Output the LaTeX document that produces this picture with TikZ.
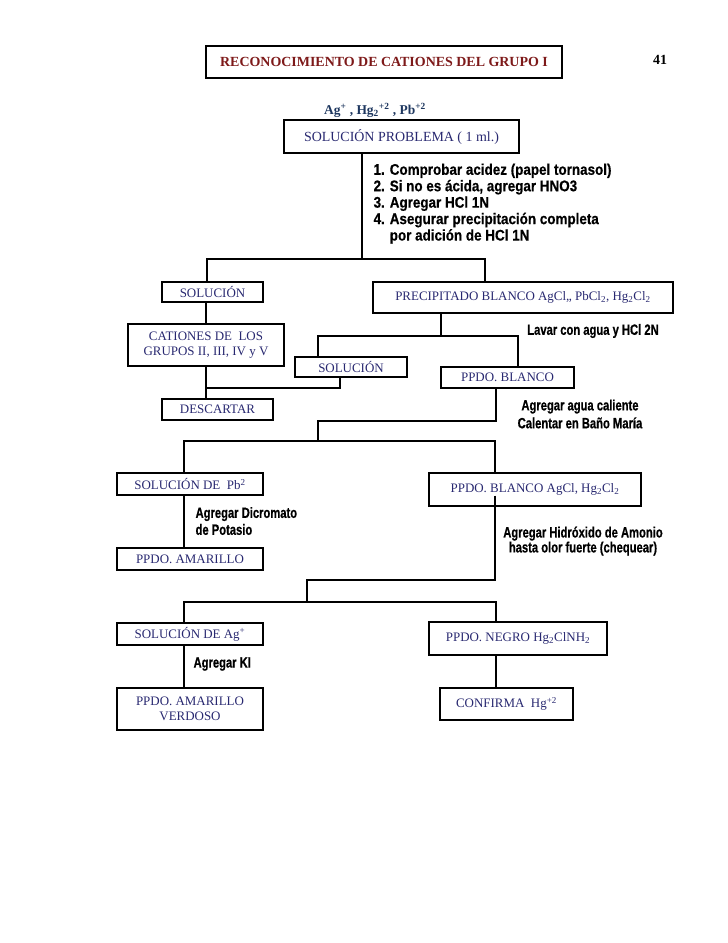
\documentclass[tikz,border=0pt]{standalone}
\usepackage{fontspec}
\usepackage{tikz}
\setmainfont{Liberation Serif}
\newfontfamily\notafont[FakeStretch=0.75,FakeBold=0.6]{Liberation Sans}
\newfontfamily\pasofont[FakeStretch=0.87,FakeBold=0.5]{Liberation Sans}
\definecolor{tinta}{RGB}{40,40,112}
\definecolor{rojotit}{RGB}{125,25,25}
\definecolor{azulion}{RGB}{30,55,95}

\begin{document}
\begin{tikzpicture}[x=1bp,y=-1bp,line width=1.2bp,
        caja/.style 2 args={draw,inner sep=0pt,minimum width=#1bp,minimum height=#2bp,
            text=tinta,align=center,font=\fontsize{13}{15.5}\selectfont},
        nota/.style={inner sep=0pt,font=\notafont\bfseries\fontsize{15}{17}\selectfont},
        pasos/.style={inner sep=0pt,align=left,font=\pasofont\bfseries\fontsize{15.5}{16.5}\selectfont}]
        \useasboundingbox (0,0) rectangle (728,943);
        % cabecera
        \node [caja={356}{32},text=rojotit,font=\bfseries\fontsize{14}{16}\selectfont] (titulo) at (384,62) {RECONOCIMIENTO DE CATIONES DEL GRUPO I};
        \node [font=\bfseries\fontsize{14}{16}\selectfont] (pagina) at (660,60) {41};
        \node [text=azulion,font=\bfseries\fontsize{13.5}{15}\selectfont] (iones) at (375,110) {Ag\textsuperscript{+} , Hg\textsubscript{2}\textsuperscript{+2} , Pb\textsuperscript{+2}};
        \node [caja={235}{33},font=\fontsize{14}{16}\selectfont] (problema) at (401.5,136.5) {SOLUCIÓN PROBLEMA ( 1 ml.)};
        \node [pasos,anchor=north west] (pasos) at (373,163) {1. Comprobar acidez (papel tornasol)\\2. Si no es ácida, agregar HNO3\\3. Agregar HCl 1N\\4. Asegurar precipitación completa\\\phantom{4. }por adición de HCl 1N};
        % cajas
        \node [caja={101}{20}] (sol1) at (212.5,292) {SOLUCIÓN};
        \node [caja={300}{31}] (precip) at (523,297.5) {PRECIPITADO BLANCO AgCl,, PbCl\textsubscript{2}, Hg\textsubscript{2}Cl\textsubscript{2}};
        \node [caja={156}{42}] (cationes) at (206,345) {CATIONES DE~ LOS\\GRUPOS II, III, IV y V};
        \node [caja={112}{20}] (sol2) at (351,367) {SOLUCIÓN};
        \node [caja={133}{21}] (blanco1) at (507.5,377.5) {PPDO. BLANCO};
        \node [caja={111}{21}] (descartar) at (217.5,409.5) {DESCARTAR};
        \node [caja={146}{22}] (solpb) at (190,484) {SOLUCIÓN DE~ Pb\textsuperscript{2}};
        \node [caja={212}{33}] (blanco2) at (535,489.5) {PPDO. BLANCO AgCl, Hg\textsubscript{2}Cl\textsubscript{2}};
        \node [caja={146}{22}] (amarillo) at (190,559) {PPDO. AMARILLO};
        \node [caja={146}{22}] (solag) at (190,634) {SOLUCIÓN DE Ag\textsuperscript{+}};
        \node [caja={178}{33}] (negro) at (518,638.5) {PPDO. NEGRO Hg\textsubscript{2}ClNH\textsubscript{2}};
        \node [caja={146}{42}] (verdoso) at (190,709) {PPDO. AMARILLO\\VERDOSO};
        \node [caja={133}{32}] (confirma) at (506.5,704) {CONFIRMA~ Hg\textsuperscript{+2}};
        % reactivos
        \node [nota] (lavar) at (593,331) {Lavar con agua y HCl 2N};
        \node [nota,align=center,font=\notafont\bfseries\fontsize{15}{18}\selectfont] (calentar) at (580,414) {Agregar agua caliente\\Calentar en Baño María};
        \node [nota,align=left,anchor=west] (dicromato) at (195,521) {Agregar Dicromato\\de Potasio};
        \node [nota,align=center,font=\notafont\bfseries\fontsize{15}{15}\selectfont] (amonio) at (583,541) {Agregar Hidróxido de Amonio\\hasta olor fuerte (chequear)};
        \node [nota,anchor=west] (yoduro) at (193,664) {Agregar KI};
        % lineas
        \coordinate (r1) at (362,259);
        \coordinate (r1l) at (207,259);
        \coordinate (r1r) at (485,259);
        \draw (problema.south -| r1) -- (r1);
        \draw (sol1.north -| r1l) -- (r1l) -- (r1r) -- (precip.north -| r1r);
        \draw (sol1.south -| cationes.north) -- (cationes.north);
        \coordinate (r2) at (441,336);
        \coordinate (r2l) at (318,336);
        \coordinate (r2r) at (518,336);
        \draw (precip.south -| r2) -- (r2);
        \draw (sol2.north -| r2l) -- (r2l) -- (r2r) -- (blanco1.north -| r2r);
        \coordinate (r3) at (206,388);
        \coordinate (r3r) at (340,388);
        \draw (cationes.south) -- (descartar.north -| cationes.south);
        \draw (sol2.south -| r3r) -- (r3r) -- (r3);
        \coordinate (r4a) at (496,421);
        \coordinate (r4b) at (318,421);
        \coordinate (r4c) at (318,441);
        \coordinate (r4l) at (184,441);
        \coordinate (r4r) at (495,441);
        \draw (blanco1.south -| r4a) -- (r4a) -- (r4b) -- (r4c);
        \draw (solpb.north -| r4l) -- (r4l) -- (r4r) -- (blanco2.north -| r4r);
        \draw (solpb.south -| r4l) -- (amarillo.north -| r4l);
        \path ([yshift=11bp]blanco2.south) coordinate (r5s);
        \coordinate (r5a) at (495,580);
        \coordinate (r5b) at (307,580);
        \coordinate (r5c) at (307,602);
        \coordinate (r5l) at (184,602);
        \coordinate (r5r) at (496,602);
        \draw (r5s -| r5a) -- (r5a) -- (r5b) -- (r5c);
        \draw (solag.north -| r5l) -- (r5l) -- (r5r) -- (negro.north -| r5r);
        \draw (solag.south -| r5l) -- (verdoso.north -| r5l);
        \draw (negro.south -| r5r) -- (confirma.north -| r5r);
    \end{tikzpicture}
\end{document}
